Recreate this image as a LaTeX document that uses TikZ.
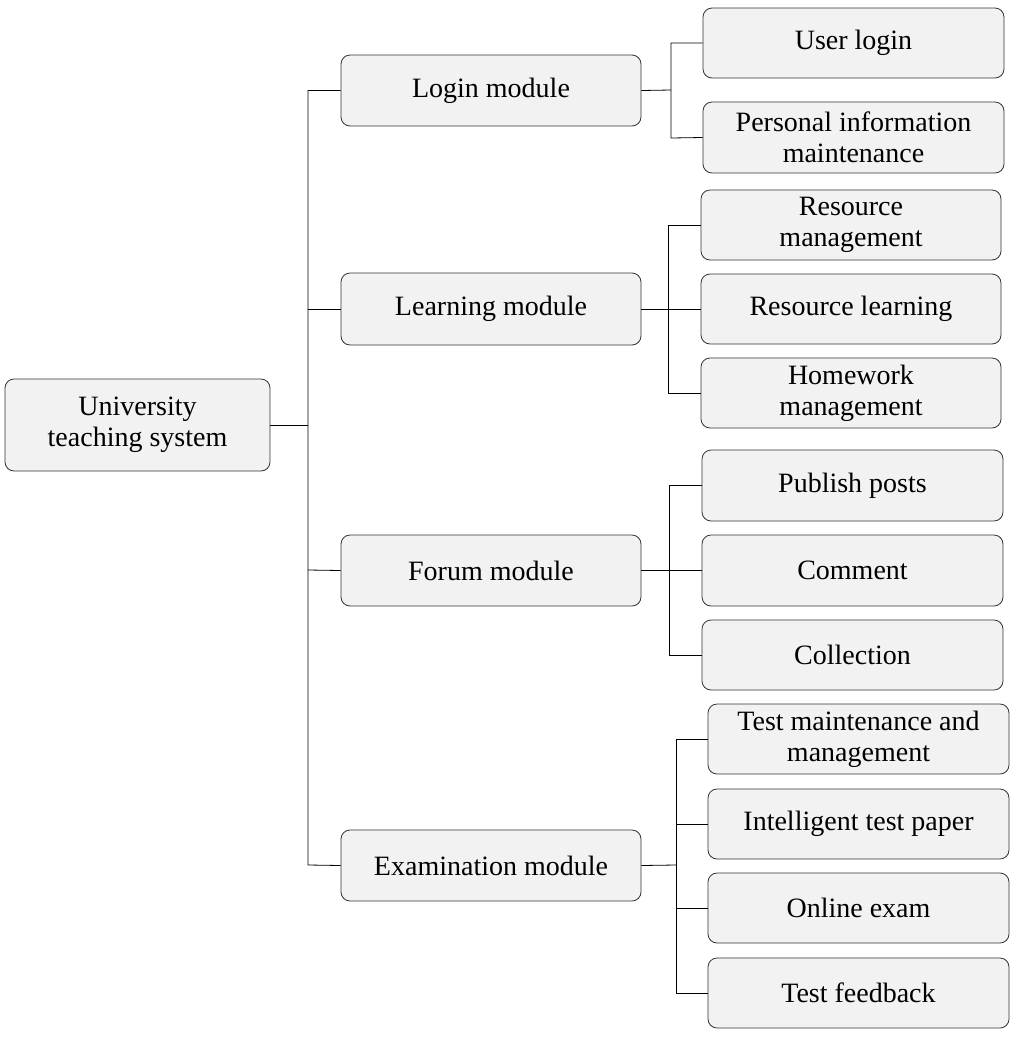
\documentclass[tikz,border=0pt]{standalone}
\usepackage{fontspec}
\setmainfont{Liberation Serif}
\begin{document}
\begin{tikzpicture}[x=1pt,y=-1pt,
 box/.style={draw=black!80,fill=black!5,rounded corners=9pt,line width=0.8pt,align=center,font=\fontsize{28}{31}\selectfont,inner sep=0pt},
 ln/.style={line width=0.8pt}]
\useasboundingbox (0,0) rectangle (1024,1037);
\newcommand\bx[6]{\node[box,minimum width={#4-#2},minimum height={#5-#3}] (#1) at ({(#2+#4)/2},{(#3+#5)/2}) {#6};}
\bx{root}{5}{379}{270}{471}{University\\teaching system}
\bx{m1}{341}{55}{641}{126}{Login module}
\bx{m2}{341}{273}{641}{345}{Learning module}
\bx{m3}{341}{535}{641}{606}{Forum module}
\bx{m4}{341}{830}{641}{901}{Examination module}
\bx{a1}{703}{8}{1004}{78}{User login}
\bx{a2}{703}{102}{1004}{173}{Personal information\\maintenance}
\bx{b1}{701}{190}{1001}{260}{Resource\\management}
\bx{b2}{701}{274}{1001}{344}{Resource learning}
\bx{b3}{701}{358}{1001}{428}{Homework\\management}
\bx{c1}{702}{450}{1003}{521}{Publish posts}
\bx{c2}{702}{535}{1003}{606}{Comment}
\bx{c3}{702}{620}{1003}{690}{Collection}
\bx{d1}{708}{704}{1009}{774}{Test maintenance and\\management}
\bx{d2}{708}{789}{1009}{859}{Intelligent test paper}
\bx{d3}{708}{873}{1009}{943}{Online exam}
\bx{d4}{708}{958}{1009}{1028}{Test feedback}
% root bus
\draw[ln] (root.east) -- (308,425);
\draw[ln] (m1.west) -| (308,865) -- (m4.west);
\draw[ln] (308,309) -- (m2.west);
\draw[ln] (308,570) -- (m3.west);
% login
\draw[ln] (m1.east) -- (671,90);
\draw[ln] (a1.west) -| (671,138) -- (a2.west);
% learning
\draw[ln] (m2.east) -- (b2.west);
\draw[ln] (b1.west) -| (668,393) -- (b3.west);
% forum
\draw[ln] (m3.east) -- (c2.west);
\draw[ln] (c1.west) -| (669,655) -- (c3.west);
% exam
\draw[ln] (m4.east) -- (676,865);
\draw[ln] (d1.west) -| (676,993) -- (d4.west);
\draw[ln] (676,824) -- (d2.west);
\draw[ln] (676,908) -- (d3.west);
\end{tikzpicture}
\end{document}
